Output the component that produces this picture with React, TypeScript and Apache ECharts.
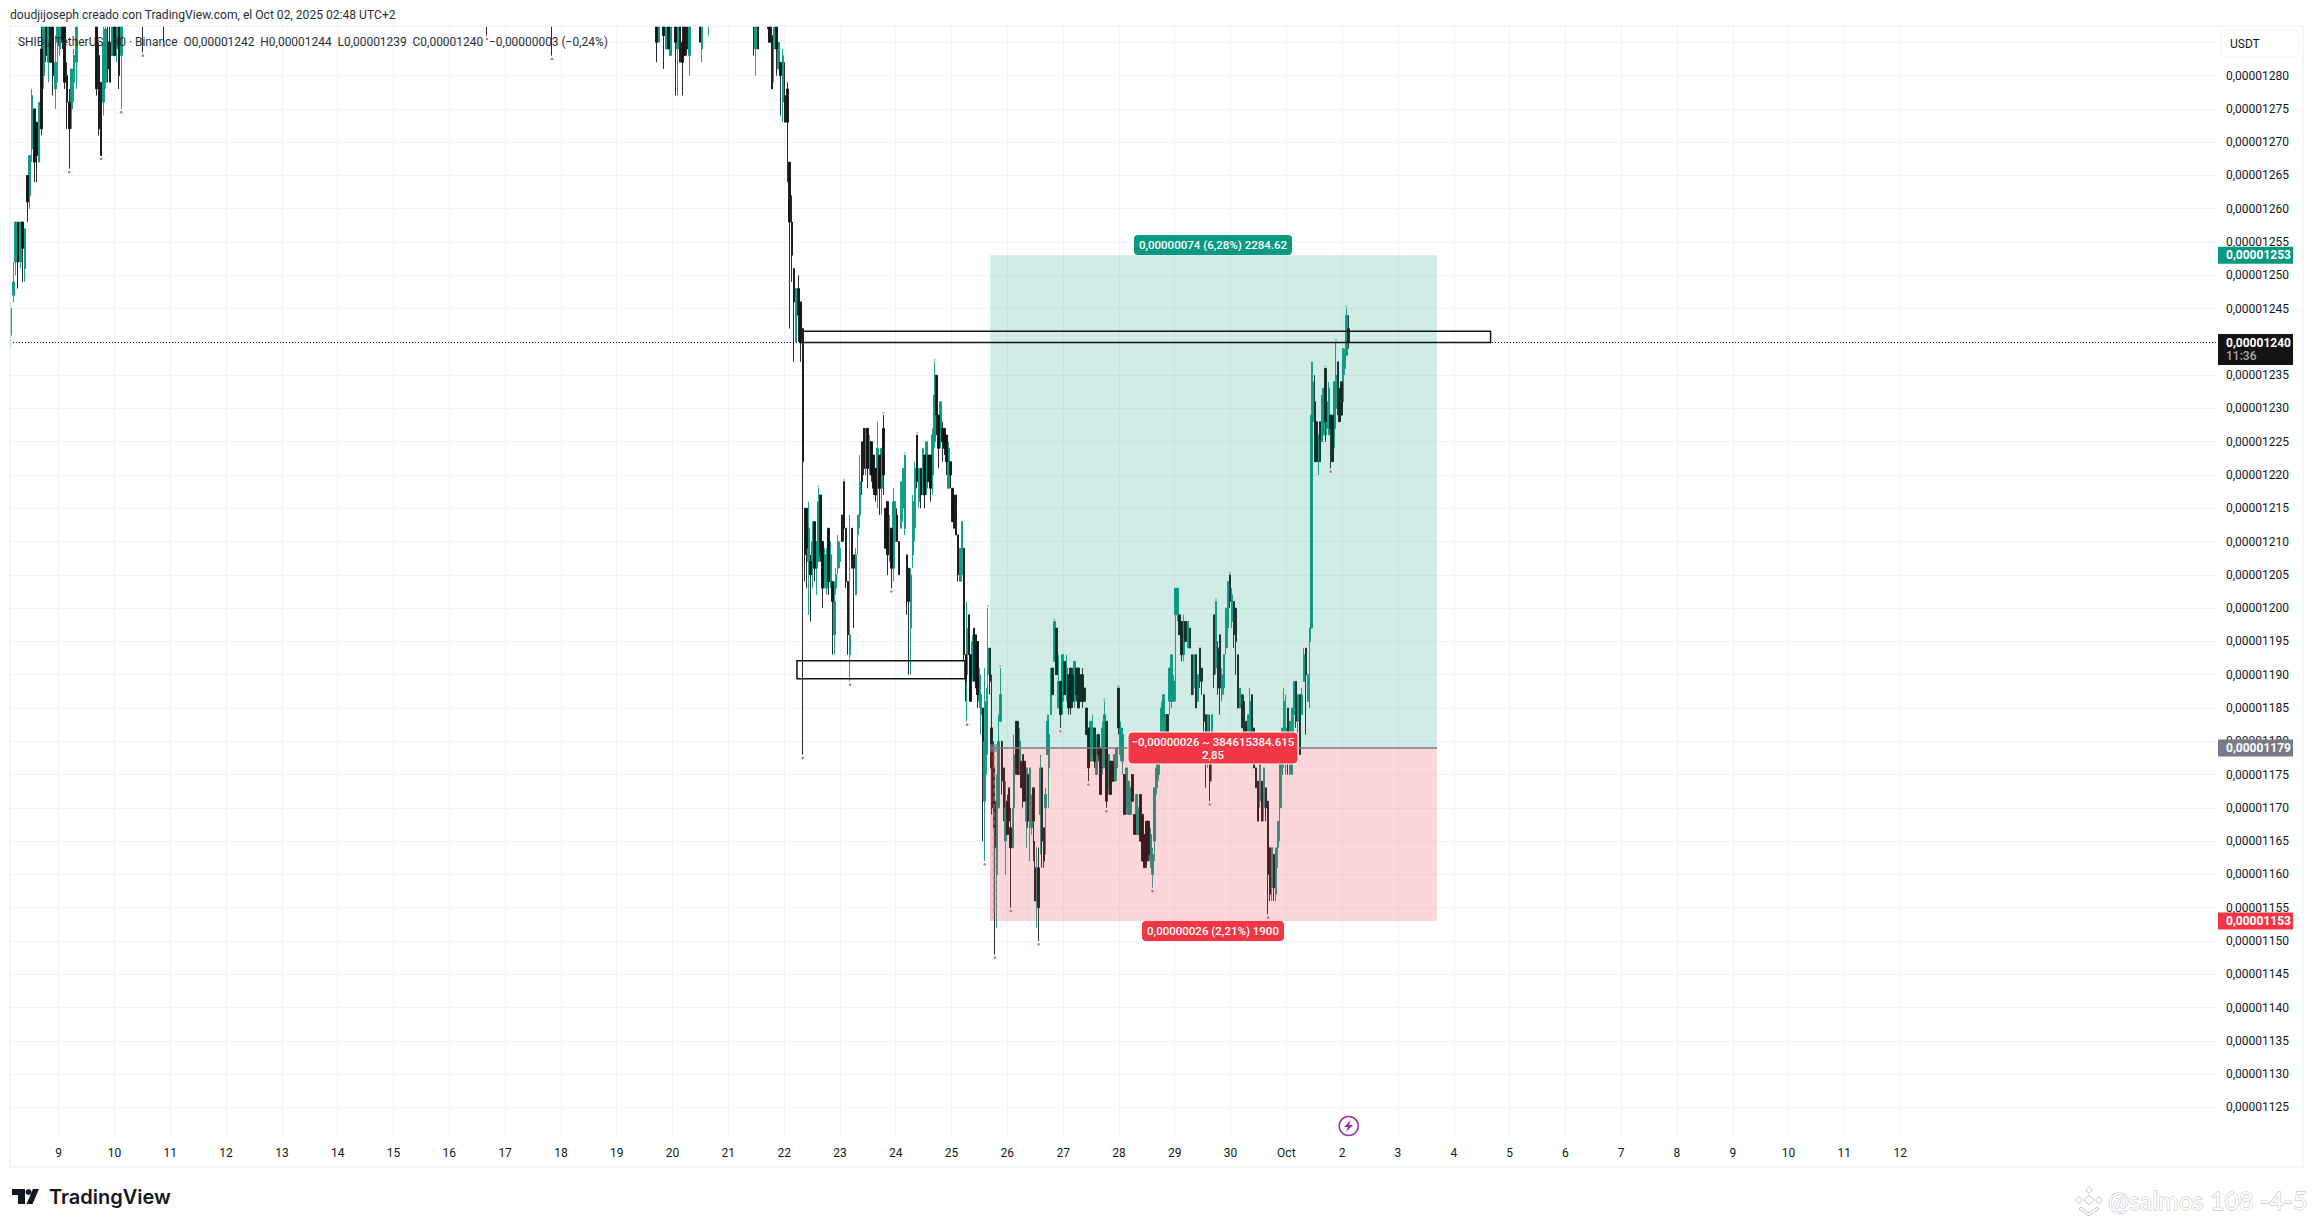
import React, { useEffect, useRef } from "react";
import * as echarts from "echarts";

// Prices are in units of 0.00000001 USDT. Bars: [open, close, low, high]
type Bar = [number, number, number, number];

const dayTicks = Array.from({ length: 34 }, (_, i) => 9 + i); // Sep 9 ... Oct 12 (Oct 1 = day 31)
const priceTicks = [1285, 1280, 1275, 1270, 1265, 1260, 1255, 1250, 1245, 1240, 1235, 1230, 1225, 1220, 1215, 1210, 1205, 1200, 1195, 1190, 1185, 1180, 1175, 1170, 1165, 1160, 1155, 1150, 1145, 1140, 1135, 1130, 1125];
const priceLabels = priceTicks.slice(1);

const barsSep8: Bar[] = [[1241,1245,1239,1246],[1247,1249,1246,1252],[1252,1258,1250,1258],[1258,1252,1248,1258],[1252,1258,1251,1258],[1258,1254,1249,1258],[1251,1257,1249,1257],[1265,1261,1258,1265],[1262,1268,1260,1268],[1269,1277,1267,1278],[1275,1267,1264,1275],[1273,1268,1264,1273],[1267,1276,1267,1276],[1284,1272,1271,1290],[1280,1288,1278,1292],[1290,1283,1282,1292],[1282,1290,1279,1292],[1290,1282,1282,1292],[1290,1280,1277,1292],[1278,1282,1275,1286],[1285,1288,1279,1289],[1284,1288,1283,1289],[1292,1285,1284,1295],[1290,1279,1278,1292],[1280,1276,1272,1282],[1276,1272,1266,1278],[1275,1281,1272,1281],[1279,1283,1276,1284],[1282,1288,1278,1289]];
const barsSep9: Bar[] = [[1290,1278,1277,1295],[1283,1272,1271,1285],[1279,1268,1268,1279],[1276,1285,1274,1290],[1279,1287,1278,1288],[1285,1281,1279,1290],[1285,1279,1279,1288],[1283,1289,1283,1290],[1290,1283,1283,1292],[1284,1290,1282,1292],[1290,1280,1278,1292],[1283,1289,1275,1290]];
const barsSep19: Bar[] = [[1290,1285,1282,1295],[1285,1290,1285,1292],[1295,1293,1292,1296],[1292,1286,1281,1295],[1284,1290,1284,1292],[1290,1284,1284,1295],[1283,1290,1283,1292],[1296,1295,1294,1297],[1290,1285,1277,1296],[1284,1290,1277,1292],[1290,1282,1282,1296],[1285,1282,1277,1292],[1290,1283,1283,1292],[1290,1284,1283,1292],[1283,1288,1280,1290]];
const barsSep20: Bar[] = [[1290,1285,1285,1296],[1284,1290,1282,1292]];
const barsSep21: Bar[] = [[1290,1288,1283,1295],[1284,1288,1280,1292],[1290,1284,1284,1292]];
const barsDrop: Bar[] = [[1290,1288,1287,1295],[1290,1285,1285,1295],[1286,1278,1278,1288],[1284,1290,1279,1290],[1290,1284,1280,1292],[1281,1285,1281,1285],[1282,1280,1274,1282],[1276,1283,1273,1284],[1277,1273,1273,1282],[1278,1273,1264,1279],[1267,1258,1242,1267],[1258,1253,1249,1262],[1251,1246,1237,1251],[1240,1248,1240,1248],[1248,1244,1240,1250],[1246,1240,1237,1246],[1242,1222,1178,1242]];
const barsRange: Bar[] = [[1215,1208,1204,1215],[1215,1209,1203,1215],[1207,1212,1199,1216],[1207,1205,1198,1208],[1206,1210,1203,1213],[1213,1206,1204,1213],[1206,1210,1202,1210],[1207,1216,1207,1218],[1217,1208,1207,1217],[1210,1203,1200,1210],[1204,1208,1203,1209],[1203,1208,1202,1209],[1212,1204,1202,1212],[1204,1208,1203,1210],[1204,1201,1193,1204],[1196,1201,1193,1204],[1203,1205,1202,1206],[1206,1210,1205,1211],[1207,1209,1206,1210],[1214,1210,1210,1214],[1219,1212,1210,1219],[1212,1204,1203,1212],[1204,1196,1193,1204],[1193,1196,1189,1214],[1212,1206,1206,1212],[1208,1206,1197,1208],[1202,1208,1202,1209],[1211,1214,1208,1214],[1214,1219,1212,1223],[1225,1219,1217,1225],[1227,1221,1220,1227],[1221,1227,1220,1227],[1227,1221,1218,1227],[1221,1225,1220,1226],[1225,1220,1219,1225],[1223,1218,1217,1223],[1221,1217,1216,1221],[1218,1224,1215,1228],[1223,1218,1214,1223],[1218,1224,1214,1224],[1227,1220,1217,1229],[1215,1209,1209,1215],[1216,1208,1205,1216],[1208,1212,1207,1214],[1212,1206,1203,1212],[1206,1216,1204,1218],[1210,1216,1208,1216],[1214,1210,1210,1215],[1210,1205,1205,1210],[1212,1219,1212,1219],[1215,1221,1213,1221],[1212,1223,1211,1223],[1208,1201,1199,1208],[1206,1201,1190,1206],[1197,1205,1190,1206],[1208,1216,1206,1217],[1212,1221,1210,1222],[1226,1219,1218,1226],[1216,1221,1215,1221],[1221,1217,1215,1221],[1218,1224,1217,1224],[1223,1217,1215,1223],[1218,1225,1217,1225],[1223,1219,1219,1223],[1223,1218,1216,1223],[1220,1226,1217,1227],[1225,1232,1224,1237],[1235,1229,1226,1235],[1229,1224,1221,1229],[1225,1231,1224,1231],[1227,1225,1222,1228],[1227,1224,1223,1227],[1226,1222,1220,1226],[1218,1224,1218,1225],[1222,1220,1218,1222],[1218,1213,1213,1218],[1217,1212,1212,1217],[1217,1211,1211,1217],[1211,1205,1204,1211],[1204,1209,1204,1209],[1205,1213,1204,1213],[1209,1193,1192,1209],[1193,1189,1186,1193]];
const barsLows1: Bar[] = [[1190,1197,1183,1201],[1199,1193,1193,1199],[1193,1186,1186,1193],[1190,1195,1189,1196],[1197,1189,1189,1197],[1196,1188,1188,1196],[1195,1187,1185,1195],[1186,1190,1185,1191],[1184,1187,1181,1187],[1185,1180,1165,1185],[1171,1180,1162,1191],[1178,1186,1175,1188],[1190,1194,1186,1200],[1194,1189,1187,1194],[1182,1176,1169,1190],[1176,1170,1167,1180],[1171,1164,1148,1172],[1160,1171,1152,1175],[1170,1180,1170,1184],[1183,1187,1183,1191],[1180,1174,1172,1180],[1176,1170,1168,1176],[1165,1171,1160,1174],[1171,1166,1166,1172],[1173,1168,1168,1173],[1167,1164,1155,1170],[1164,1167,1164,1170],[1170,1178,1165,1181],[1183,1176,1175,1183],[1183,1175,1175,1183],[1175,1180,1175,1182],[1177,1173,1173,1177],[1178,1171,1170,1178],[1177,1171,1171,1177],[1168,1176,1164,1176],[1175,1168,1167,1175],[1170,1176,1162,1176],[1167,1170,1166,1172],[1173,1168,1162,1173],[1161,1156,1156,1165],[1156,1161,1152,1164],[1161,1155,1150,1164],[1169,1176,1163,1178],[1176,1165,1161,1176],[1167,1162,1161,1167],[1170,1172,1163,1173],[1178,1183,1178,1184],[1176,1181,1170,1184],[1184,1190,1184,1191],[1191,1187,1187,1191],[1192,1198,1192,1198]];
const barsLows2: Bar[] = [[1197,1190,1190,1197],[1185,1189,1185,1193],[1189,1184,1182,1189],[1186,1193,1184,1193],[1192,1187,1187,1192],[1187,1191,1186,1193],[1190,1185,1184,1190],[1191,1185,1184,1191],[1190,1186,1185,1191],[1186,1192,1185,1192],[1191,1187,1186,1191],[1191,1185,1185,1191],[1190,1186,1186,1190],[1190,1186,1185,1191],[1188,1186,1186,1188],[1185,1181,1181,1185],[1182,1176,1174,1182],[1177,1183,1177,1183],[1178,1182,1177,1184],[1182,1177,1176,1182],[1175,1180,1175,1181],[1181,1178,1177,1181],[1179,1172,1172,1179],[1176,1182,1175,1183],[1176,1184,1176,1186],[1183,1171,1170,1183],[1173,1178,1172,1178],[1177,1172,1172,1177],[1177,1174,1174,1177],[1174,1178,1174,1178],[1176,1179,1174,1179],[1188,1182,1181,1188],[1178,1182,1177,1183],[1177,1181,1175,1182],[1175,1169,1169,1175],[1170,1176,1169,1176],[1169,1174,1169,1174],[1169,1173,1169,1173],[1175,1171,1171,1175],[1169,1166,1166,1169],[1166,1172,1166,1172],[1166,1170,1166,1170],[1172,1165,1165,1172],[1169,1162,1162,1169],[1166,1161,1161,1166],[1168,1162,1161,1168],[1168,1163,1162,1168],[1162,1166,1161,1167],[1160,1163,1158,1164],[1165,1173,1162,1173],[1173,1176,1172,1177],[1175,1177,1174,1178]];
const barsLows3: Bar[] = [[1180,1185,1177,1186],[1183,1187,1180,1187],[1180,1184,1178,1184],[1184,1179,1178,1184],[1186,1191,1184,1191],[1186,1193,1185,1193],[1186,1189,1186,1190],[1199,1203,1186,1203],[1199,1203,1198,1203],[1199,1196,1196,1199],[1198,1193,1192,1198],[1193,1198,1192,1199],[1198,1195,1195,1198],[1194,1198,1194,1198],[1197,1194,1194,1197],[1193,1187,1187,1193],[1188,1193,1187,1193],[1193,1185,1185,1193],[1186,1190,1186,1190],[1194,1189,1188,1194],[1191,1189,1187,1191],[1187,1183,1181,1187],[1184,1178,1173,1184],[1178,1184,1176,1184],[1177,1174,1171,1184],[1180,1184,1174,1184],[1199,1190,1188,1199],[1191,1201,1190,1201],[1194,1188,1187,1195],[1196,1188,1184,1196],[1187,1190,1186,1191],[1188,1193,1187,1193],[1194,1200,1193,1200],[1197,1204,1194,1204],[1205,1201,1200,1205],[1198,1202,1197,1203],[1201,1196,1194,1201],[1200,1195,1190,1200],[1193,1185,1185,1193],[1185,1188,1185,1188],[1187,1182,1182,1187],[1186,1181,1181,1187],[1183,1179,1179,1183],[1178,1184,1178,1184],[1180,1186,1179,1188],[1187,1181,1180,1187],[1182,1176,1176,1182],[1176,1173,1173,1176],[1174,1168,1168,1174],[1171,1177,1170,1177],[1174,1168,1168,1174],[1170,1176,1168,1176],[1173,1170,1168,1173],[1171,1160,1154,1171],[1164,1157,1156,1164],[1158,1164,1156,1164],[1163,1158,1156,1163],[1157,1164,1156,1164],[1164,1168,1161,1168],[1170,1177,1165,1177],[1175,1182,1170,1182],[1178,1186,1176,1188],[1177,1182,1175,1187],[1185,1177,1175,1185],[1175,1183,1175,1183],[1175,1185,1175,1185],[1184,1189,1180,1189],[1189,1183,1182,1189],[1183,1187,1181,1187],[1187,1178,1178,1187],[1184,1187,1184,1188],[1189,1193,1189,1194],[1194,1190,1181,1194],[1186,1190,1186,1190],[1195,1197,1185,1197]];
const barsRally: Bar[] = [[1197,1229,1197,1237],[1228,1234,1228,1237],[1231,1222,1222,1235],[1228,1222,1222,1228],[1222,1226,1220,1226],[1228,1222,1222,1228],[1225,1232,1225,1232],[1226,1233,1226,1233],[1236,1228,1225,1236],[1227,1231,1226,1231],[1226,1233,1226,1234],[1229,1227,1221,1229],[1229,1222,1222,1229],[1227,1234,1224,1234],[1230,1235,1228,1240],[1237,1230,1229,1237],[1233,1228,1228,1233],[1234,1229,1229,1234],[1231,1239,1230,1239],[1236,1238,1235,1239],[1238,1244,1238,1245],[1242,1240,1239,1244]];
const barsLoose: [number, Bar][] = [[10.51,[1290,1288,1283.5,1296]],[10.887,[1292,1290,1285,1296]],[16.676,[1292,1290,1286,1296]],[17.84,[1292,1290,1283,1296]],[20.654,[1292,1295,1286,1296]]];

// first and last day of each run of bars (Oct 1 = day 31)
const runs: [number, number, Bar[]][] = [
  [8.145, 9.315, barsSep8], [9.68, 10.122, barsSep9], [19.717, 20.3, barsSep19], [20.49, 20.53, barsSep20],
  [21.448, 21.53, barsSep21], [21.7, 22.335, barsDrop], [22.37, 25.26, barsRange],
  [25.28, 26.842, barsLows1], [26.878, 28.706, barsLows2], [28.766, 31.425, barsLows3], [31.45, 32.11, barsRally],
];

const lastPrice = 1240;
const entryPrice = 1179;
const targetPrice = 1253;
const stopPrice = 1153;
const positionDays = [25.69, 33.7];
const zoneHigh = { days: [22.28, 34.66], prices: [1241.6, 1239.9] };
const zoneLow = { days: [22.23, 25.24], prices: [1192.1, 1189.4] };

const PLOT = { left: 10, top: 26, right: 2216, bottom: 1139 };
const FONT = "Roboto, sans-serif";
const INK = "#131722";
const TEAL = "#089981";
const RED = "#f23645";
const GREY = "#787b86";
const BLACK = "#131313";

function dayLabel(v: number) {
  return v === 31 ? "Oct" : String(v > 31 ? v - 30 : v);
}
function priceLabel(v: number) {
  return "0,0000" + v;
}

function pill(x: number, y: number, w: number, h: number, fill: string, lines: string[], stroke?: string) {
  const out: any[] = [
    { type: "rect", z: 100, shape: { x, y, width: w, height: h, r: 4 }, style: { fill, stroke: stroke || fill, lineWidth: stroke ? 1 : 0 } },
  ];
  const lh = 13;
  lines.forEach((t, i) => {
    out.push({
      type: "text", z: 101,
      style: { text: t, x: x + w / 2, y: y + h / 2 + (i - (lines.length - 1) / 2) * lh, fill: "#fff", font: `500 11.5px ${FONT}`, align: "center", verticalAlign: "middle" },
    });
  });
  return out;
}

function tag(y: number, h: number, fill: string, text: string) {
  return [
    { type: "rect", z: 100, shape: { x: 2218, y, width: 75, height: h }, style: { fill } },
    { type: "text", z: 101, style: { text, x: 2226, y: y + 8.5, fill: "#fff", font: `700 12px ${FONT}`, align: "left", verticalAlign: "middle" } },
  ];
}

function diamond(cx: number, cy: number, r: number) {
  return { type: "polygon", z: 100, shape: { points: [[cx, cy - r], [cx + r, cy], [cx, cy + r], [cx - r, cy]] }, style: { fill: "#fff", stroke: "#c4c4c4", lineWidth: 1 } };
}

export default function App() {
  const ref = useRef<HTMLDivElement>(null);
  useEffect(() => {
    document.body.style.margin = "0";
    document.body.style.background = "#fff";
    const chart = echarts.init(ref.current!, undefined, { renderer: "svg" });

    const candles: number[][] = [];
    runs.forEach(([from, to, bars]) => {
      bars.forEach((b, i) => {
        candles.push([from + (bars.length > 1 ? (i * (to - from)) / (bars.length - 1) : 0), ...b]);
      });
    });
    barsLoose.forEach(([d, b]) => candles.push([d, ...b]));
    candles.sort((a, b) => a[0] - b[0]);

    // fractal marks: a bar whose low (high) is the extreme of its neighbours
    const lowMarks: number[][] = [];
    const highMarks: number[][] = [];
    const W = 5;
    candles.forEach((c, i) => {
      if (i < W) return;
      const around = candles.slice(i - W, i + W + 1).filter((o) => Math.abs(o[0] - c[0]) < 0.3);
      if (around.every((o) => o === c || o[3] > c[3])) lowMarks.push([c[0], c[3] - 0.5]);
      if (around.every((o) => o === c || o[4] < c[4])) highMarks.push([c[0], c[4] + 0.3]);
    });

    const yOf = (p: number) => 75.5 + (1280 - p) * 6.658;

    const graphicEls: any[] = [
      { type: "rect", z: 89, silent: true, shape: { x: 0, y: 0, width: 2313, height: 26 }, style: { fill: "#ffffff" } },
      { type: "rect", z: 90, silent: true, shape: { x: 10, y: 26, width: 2293, height: 1141 }, style: { fill: "none", stroke: "#f0f3fa", lineWidth: 1.5 } },
      { type: "text", z: 100, style: { text: "doudjijoseph creado con TradingView.com, el Oct 02, 2025 02:48 UTC+2", x: 10, y: 15, fill: "#2a2e39", font: `12.1px ${FONT}`, align: "left", verticalAlign: "middle" } },
      { type: "text", z: 100, style: { text: "SHIB / TetherUS · 30 · Binance  O0,00001242  H0,00001244  L0,00001239  C0,00001240  −0,00000003 (−0,24%)", x: 18, y: 42, fill: "#2a2e39", font: `11.95px ${FONT}`, align: "left", verticalAlign: "middle" } },
      { type: "rect", z: 100, shape: { x: 2221, y: 30, width: 78, height: 27, r: 4 }, style: { fill: "#fff", stroke: "#f0f3fa", lineWidth: 1 } },
      { type: "text", z: 101, style: { text: "USDT", x: 2230, y: 44, fill: INK, font: `12px ${FONT}`, align: "left", verticalAlign: "middle" } },
      ...pill(1134, 235, 158, 20, TEAL, ["0,00000074 (6,28%) 2284.62"]),
      ...pill(1128, 732, 170, 32, RED, ["−0,00000026 ~ 384615384.615", "2,85"], "#ffffff"),
      ...pill(1142, 921, 142, 20, RED, ["0,00000026 (2,21%) 1900"]),
      ...tag(yOf(targetPrice) - 8.5, 17, TEAL, priceLabel(targetPrice)),
      ...tag(yOf(entryPrice) - 8.5, 17, GREY, priceLabel(entryPrice)),
      ...tag(yOf(stopPrice) - 8.5, 17, RED, priceLabel(stopPrice)),
      ...tag(334, 31, BLACK, priceLabel(lastPrice)),
      { type: "text", z: 101, style: { text: "11:36", x: 2226, y: 356, fill: "#a8a8a8", font: `500 12px ${FONT}`, align: "left", verticalAlign: "middle" } },
      // lightning marker
      { type: "circle", z: 100, shape: { cx: 1348.7, cy: 1126, r: 9.5 }, style: { fill: "#fff", stroke: "#9c27b0", lineWidth: 1.5 } },
      { type: "polygon", z: 101, shape: { points: [[1351, 1120], [1344, 1127], [1348, 1127], [1346, 1132], [1353, 1125], [1349, 1125]] }, style: { fill: "#9c27b0" } },
      // TradingView logo
      { type: "polygon", z: 100, shape: { points: [[12, 1189], [25, 1189], [25, 1204], [18, 1204], [18, 1195], [12, 1195]] }, style: { fill: INK } },
      { type: "circle", z: 100, shape: { cx: 28.5, cy: 1192, r: 3 }, style: { fill: INK } },
      { type: "polygon", z: 100, shape: { points: [[33, 1189], [39, 1189], [32.5, 1204], [26.5, 1204]] }, style: { fill: INK } },
      { type: "text", z: 100, style: { text: "TradingView", x: 49, y: 1197, fill: INK, font: `600 20px Inter, sans-serif`, align: "left", verticalAlign: "middle" } },
      // Watermark
      diamond(2089, 1200, 5), diamond(2089, 1190, 3.5), diamond(2079, 1200, 3.5), diamond(2099, 1200, 3.5),
      { type: "polygon", z: 100, shape: { points: [[2081, 1207], [2089, 1213], [2097, 1207], [2099, 1209], [2089, 1216], [2079, 1209]] }, style: { fill: "#fff", stroke: "#c4c4c4", lineWidth: 1 } },
      { type: "text", z: 100, style: { text: "@salmos 108 -4-5", x: 2108, y: 1200, fill: "#fff", stroke: "#b4b4b4", lineWidth: 0.9, font: `25px Lato, sans-serif`, align: "left", verticalAlign: "middle" } },
    ];

    const candleSeries = (data: number[][], color: string, z: number) => ({
      type: "candlestick",
      z,
      large: false,
      barWidth: 2,
      encode: { x: 0, y: [1, 2, 3, 4] },
      data,
      itemStyle: { color, color0: color, borderColor: color, borderColor0: color, borderWidth: 0.9 },
      silent: true,
    });

    chart.setOption({
      animation: false,
      backgroundColor: "#ffffff",
      grid: { left: PLOT.left, top: PLOT.top, right: 2313 - PLOT.right, bottom: 1227 - PLOT.bottom, containLabel: false },
      xAxis: {
        type: "value",
        min: 8.127,
        max: 47.66,
        axisLine: { show: false },
        axisTick: { show: false, customValues: dayTicks },
        axisLabel: { customValues: dayTicks, formatter: (v: number) => dayLabel(v), color: INK, fontFamily: FONT, fontSize: 12, margin: 8 },
        splitLine: { show: true, lineStyle: { color: "#f2f4f7", width: 1 } },
      },
      yAxis: {
        type: "value",
        position: "right",
        min: 1120.25,
        max: 1287.45,
        axisLine: { show: false },
        axisTick: { show: false, customValues: priceTicks },
        axisLabel: { customValues: priceLabels, formatter: (v: number) => priceLabel(v), color: INK, fontFamily: FONT, fontSize: 12, margin: 10 },
        splitLine: { show: true, lineStyle: { color: "#f2f4f7", width: 1 } },
      },
      series: [
        candleSeries(candles.filter((c) => c[2] >= c[1]), TEAL, 2),
        candleSeries(candles.filter((c) => c[2] < c[1]), BLACK, 3),
        {
          type: "scatter",
          z: 4,
          silent: true,
          symbol: "circle",
          symbolSize: 2.5,
          itemStyle: { color: RED },
          data: lowMarks,
          markArea: {
            silent: true,
            z: 10,
            data: [
              [{ coord: [positionDays[0], targetPrice], itemStyle: { color: "rgba(8,153,129,0.19)" } }, { coord: [positionDays[1], entryPrice] }],
              [{ coord: [positionDays[0], entryPrice], itemStyle: { color: "rgba(242,54,69,0.2)" } }, { coord: [positionDays[1], stopPrice] }],
              [{ coord: [25.69, entryPrice], itemStyle: { color: "rgba(242,54,69,0.14)" } }, { coord: [25.8, stopPrice] }],
            ],
          },
        },
        {
          type: "scatter",
          z: 4,
          silent: true,
          symbolSize: 2.5,
          itemStyle: { color: "#8fcfc0" },
          data: highMarks,
          markArea: {
            silent: true,
            z: 12,
            data: [
              [{ coord: [zoneHigh.days[0], zoneHigh.prices[0]], itemStyle: { color: "rgba(0,0,0,0)", borderColor: BLACK, borderWidth: 1.5 } }, { coord: [zoneHigh.days[1], zoneHigh.prices[1]] }],
              [{ coord: [zoneLow.days[0], zoneLow.prices[0]], itemStyle: { color: "rgba(0,0,0,0)", borderColor: BLACK, borderWidth: 1.5 } }, { coord: [zoneLow.days[1], zoneLow.prices[1]] }],
            ],
          },
          markLine: {
            silent: true,
            z: 13,
            symbol: "none",
            label: { show: false },
            data: [
              { yAxis: lastPrice, lineStyle: { color: INK, type: [1, 2], width: 1, opacity: 1 } },
              [{ coord: [positionDays[0], entryPrice], lineStyle: { color: GREY, type: "solid", width: 1.5 } }, { coord: [positionDays[1], entryPrice] }],
              [{ coord: [25.76, entryPrice], lineStyle: { color: GREY, type: [5, 3], width: 2, opacity: 0.6 }, symbol: ["none", "arrow"], symbolSize: 8 }, { coord: [25.76, stopPrice + 0.5] }],
            ],
          },
        },
      ],
      graphic: { elements: graphicEls },
    });
    return () => chart.dispose();
  }, []);
  return <div ref={ref} style={{ position: "absolute", left: 0, top: 0, width: 2313, height: 1227 }} />;
}
